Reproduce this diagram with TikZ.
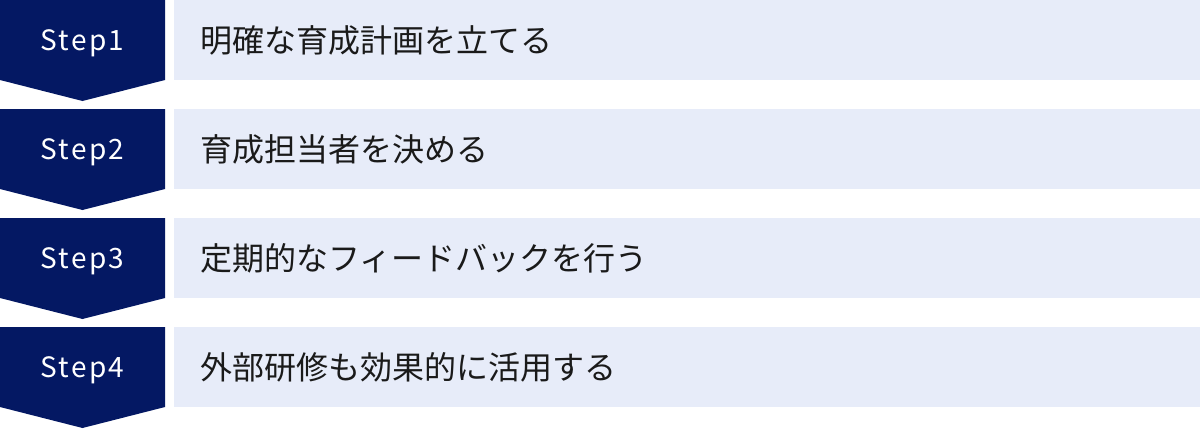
\documentclass[tikz,border=0pt]{standalone}
\usepackage{fontspec}
\newfontfamily\jpfont{Noto Sans CJK JP}
\newfontfamily\stepfont[LetterSpace=8]{Noto Sans CJK JP}
\definecolor{navy}{HTML}{041863}
\definecolor{pale}{HTML}{E7ECF9}
\definecolor{ink}{HTML}{1A1A1A}
\tikzset{
  steplabel/.style={text=white,font=\stepfont\fontsize{21pt}{24pt}\selectfont,inner sep=0pt},
  taskbox/.style={rectangle,fill=pale,anchor=north west,minimum width=1026*0.75pt,minimum height=80*0.75pt,inner sep=0pt},
  tasklabel/.style={text=ink,font=\jpfont\fontsize{24pt}{28pt}\selectfont,anchor=west,inner sep=0pt}
}
\begin{document}
\begin{tikzpicture}[x=0.75pt,y=-0.75pt]
\useasboundingbox (0,0) rectangle (1200,429);
%
\fill[navy] (0,0) -- (165,0) -- (165,80) -- (82.5,101) -- (0,80) -- cycle;
\fill[navy] (0,109) -- (165,109) -- (165,189) -- (82.5,210) -- (0,189) -- cycle;
\fill[navy] (0,218) -- (165,218) -- (165,298) -- (82.5,319) -- (0,298) -- cycle;
\fill[navy] (0,327) -- (165,327) -- (165,407) -- (82.5,428) -- (0,407) -- cycle;
%
  \node [steplabel] at (82.5,43) (s1) {Step1};
   \node [steplabel] at (82.5,152) (s2) {Step2};
    \node [steplabel] at (82.5,261) (s3) {Step3};
     \node [steplabel] at (82.5,370) (s4) {Step4};
%
  \node [taskbox] at (174,0) (b1) {};
   \node [taskbox] at (174,109) (b2) {};
    \node [taskbox] at (174,218) (b3) {};
     \node [taskbox] at (174,327) (b4) {};
%
  \node [tasklabel] at (200,40) (t1) {明確な育成計画を立てる};
   \node [tasklabel] at (200,149) (t2) {育成担当者を決める};
    \node [tasklabel] at (200,258) (t3) {定期的なフィードバックを行う};
     \node [tasklabel] at (200,367) (t4) {外部研修も効果的に活用する};
\end{tikzpicture}
\end{document}
